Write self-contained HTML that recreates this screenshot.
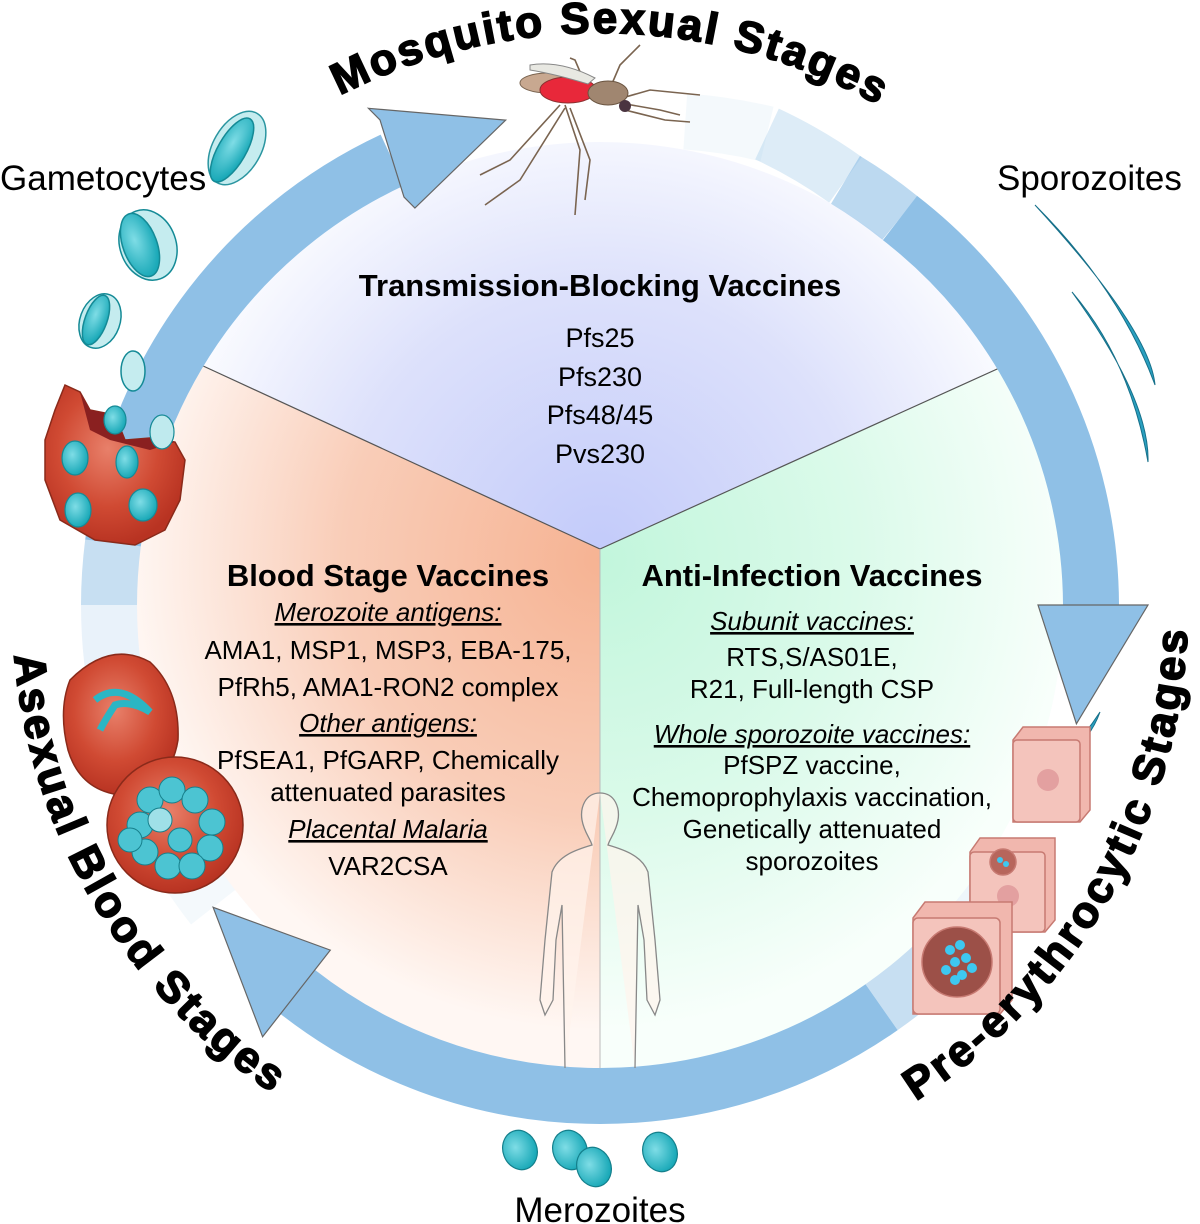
<!DOCTYPE html>
<html><head><meta charset="utf-8"><style>
html,body{margin:0;padding:0;background:#fff}
svg{display:block}
text{font-family:"Liberation Sans",Arial,sans-serif}
</style></head><body>
<svg width="1200" height="1224" viewBox="0 0 1200 1224" xmlns="http://www.w3.org/2000/svg">
<defs>
<radialGradient id="gTop" cx="600" cy="549" r="440" gradientUnits="userSpaceOnUse">
<stop offset="0" stop-color="#c3cbfa"/><stop offset="0.6" stop-color="#dde1fb"/><stop offset="1" stop-color="#fafbff"/></radialGradient>
<radialGradient id="gLeft" cx="600" cy="560" r="470" gradientUnits="userSpaceOnUse">
<stop offset="0" stop-color="#f6b393"/><stop offset="0.55" stop-color="#f9cdb8"/><stop offset="1" stop-color="#fff7f3"/></radialGradient>
<radialGradient id="gRight" cx="600" cy="560" r="470" gradientUnits="userSpaceOnUse">
<stop offset="0" stop-color="#c2f6dc"/><stop offset="0.55" stop-color="#dbfaea"/><stop offset="1" stop-color="#f8fffb"/></radialGradient>
<clipPath id="disk"><circle cx="600" cy="605" r="463"/></clipPath>
<radialGradient id="rbc" cx="0.45" cy="0.4" r="0.6"><stop offset="0" stop-color="#e8806a"/><stop offset="0.6" stop-color="#d04a33"/><stop offset="1" stop-color="#b83322"/></radialGradient>
<radialGradient id="teal" cx="0.4" cy="0.4" r="0.6"><stop offset="0" stop-color="#7fdde6"/><stop offset="1" stop-color="#1aa9b8"/></radialGradient>
<path id="pTop" d="M 331.4 99.9 A 572 572 0 0 1 886 109.6" fill="none"/>
<path id="pLeft" d="M 12.8 635.8 A 588 588 0 0 0 288.4 1103.6" fill="none"/>
<path id="pRight" d="M 894 1114.2 A 588 588 0 0 0 1188 605" fill="none"/>
</defs>

<!-- sectors -->
<g clip-path="url(#disk)">
<rect x="0" y="0" width="1200" height="1224" fill="url(#gTop)"/>
<polygon points="600,549 201,365 0,270 0,1224 600,1224" fill="url(#gLeft)"/>
<polygon points="600,549 1006,365 1200,270 1200,1224 600,1224" fill="url(#gRight)"/>
<polyline points="201,365 600,549 1006,365" fill="none" stroke="#555" stroke-width="1.2"/>
<line x1="600" y1="549" x2="600" y2="1070" stroke="#bbb" stroke-width="1"/>
</g>

<!-- ring / arrows -->
<g fill="none" stroke="#8fc0e6" stroke-width="56">
<path d="M 213.1 907.3 A 491 491 0 0 1 125.7 732.1" stroke-opacity="0.1"/>
<path d="M 125.7 732.1 A 491 491 0 0 1 109 605" stroke-opacity="0.2"/>
<path d="M 109 605 A 491 491 0 0 1 113 543" stroke-opacity="0.5"/>
<path d="M 113 543 A 491 491 0 0 1 392.5 160" />
<path d="M 685.3 121.5 A 491 491 0 0 1 767 134" stroke-opacity="0.1"/>
<path d="M 767 134 A 491 491 0 0 1 845.5 179.8" stroke-opacity="0.3"/>
<path d="M 845.5 179.8 A 491 491 0 0 1 900 218" stroke-opacity="0.6"/>
<path d="M 900 218 A 491 491 0 0 1 1091 605"/>
<path d="M 1002.2 886.6 A 491 491 0 0 1 947.2 952.2" stroke-opacity="0.15"/>
<path d="M 947.2 952.2 A 491 491 0 0 1 881.6 1007.2" stroke-opacity="0.5"/>
<path d="M 881.6 1007.2 A 491 491 0 0 1 297.7 991.9"/>
</g>
<g fill="#8fc0e6" stroke="#666" stroke-width="1.2" stroke-linejoin="miter">
<polygon points="368.4,108.3 505.7,120.1 414.9,208 404,197 380,120"/>
<polygon points="1038,605 1063,605 1118,605 1148,605 1076.4,723.8"/>
<polygon points="330.3,950.1 262.6,1036.8 213.1,907.3"/>
</g>

<!-- mosquito -->
<g stroke="#7a6450" stroke-width="1.6" fill="none">
<path d="M560 105 L510 160 L480 175"/><path d="M565 108 L520 180 L485 205"/>
<path d="M565 105 L580 150 L575 215"/><path d="M570 108 L590 160 L585 200"/>
<path d="M605 100 L620 65 L640 45"/><path d="M615 100 L650 90 L700 95"/>
<path d="M620 103 L660 110 L680 115"/><path d="M625 110 L665 120 L690 122"/>
<path d="M590 95 L575 60 L570 58"/>
</g>
<ellipse cx="548" cy="83" rx="28" ry="10" fill="#c8a890" stroke="#7a6450"/>
<ellipse cx="568" cy="90" rx="28" ry="13" fill="#e8283a" stroke="#8a3030"/>
<path d="M530 65 Q560 60 595 78 L588 84 Q555 74 530 70 Z" fill="#e8e8e2" stroke="#888"/>
<ellipse cx="608" cy="93" rx="20" ry="12" fill="#a08670" stroke="#6a5440"/>
<circle cx="625" cy="106" r="6" fill="#4a3440"/>

<!-- gametocytes & burst RBC -->
<g stroke="#148a96" stroke-width="1.5">
<ellipse cx="237" cy="148" rx="24" ry="40" transform="rotate(30 237 148)" fill="#bfeaee" opacity="0.9"/>
<ellipse cx="232" cy="150" rx="14" ry="36" transform="rotate(30 232 150)" fill="url(#teal)"/>
<ellipse cx="148" cy="245" rx="28" ry="36" transform="rotate(-20 148 245)" fill="#c5ecef"/>
<ellipse cx="140" cy="245" rx="17" ry="33" transform="rotate(-20 140 245)" fill="url(#teal)"/>
<ellipse cx="100" cy="321" rx="20" ry="28" transform="rotate(20 100 321)" fill="#c5ecef"/>
<ellipse cx="96" cy="320" rx="11" ry="26" transform="rotate(20 96 320)" fill="url(#teal)"/>
<ellipse cx="133" cy="371" rx="12" ry="20" fill="#c5ecef"/>
</g>
<path d="M65 385 L80 392 L90 410 L115 415 L125 440 L150 438 L175 442 L185 460 L180 500 L165 530 L135 545 L95 540 L60 520 L45 480 L45 440 L55 410 Z" fill="url(#rbc)" stroke="#8a2a1a" stroke-width="1.5"/>
<path d="M80 392 L90 410 L115 415 L125 440 L150 438 L175 442 L150 450 L110 440 L90 430 Z" fill="#8a2020"/>
<g fill="url(#teal)" stroke="#158a96" stroke-width="1.2">
<ellipse cx="75" cy="458" rx="13" ry="17"/><ellipse cx="127" cy="462" rx="11" ry="16"/>
<ellipse cx="78" cy="510" rx="13" ry="17"/><ellipse cx="143" cy="505" rx="14" ry="16"/>
<ellipse cx="115" cy="420" rx="11" ry="14"/><ellipse cx="162" cy="432" rx="12" ry="17" fill="#bfeaee"/>
</g>

<!-- infected RBCs left -->
<path d="M70 680 Q110 640 150 662 Q180 690 178 740 Q170 790 120 795 Q80 790 68 750 Q58 710 70 680Z" fill="url(#rbc)" stroke="#8a2a1a" stroke-width="1.5"/>
<path d="M95 700 Q120 680 150 712 Q130 700 115 705 Q105 720 100 730" fill="none" stroke="#2bb6c4" stroke-width="7"/>
<circle cx="175" cy="825" r="68" fill="url(#rbc)" stroke="#8a2a1a" stroke-width="1.5"/>
<g fill="#4cc4d2" stroke="#167f8b" stroke-width="1">
<circle cx="150" cy="800" r="13"/><circle cx="172" cy="790" r="13"/><circle cx="195" cy="800" r="13"/><circle cx="212" cy="822" r="13"/>
<circle cx="140" cy="825" r="13"/><circle cx="210" cy="848" r="13"/><circle cx="145" cy="852" r="13"/><circle cx="168" cy="866" r="13"/>
<circle cx="192" cy="866" r="13"/><circle cx="130" cy="840" r="12"/><circle cx="180" cy="840" r="12"/><circle cx="160" cy="820" r="12" fill="#9fe0e8"/>
</g>

<!-- sporozoites -->
<g fill="#2aa0c0" stroke="#16708a" stroke-width="1">
<path d="M1035 205 Q1120 290 1155 385 Q1150 330 1035 205Z"/>
<path d="M1072 292 Q1130 360 1148 462 Q1150 400 1072 292Z"/>
<path d="M1100 712 Q1085 735 1068 752 Q1090 740 1100 712Z"/>
</g>

<!-- liver cells -->
<g stroke="#c77a72" stroke-width="1.5">
<path d="M1013 740 L1023 727 L1090 727 L1090 810 L1080 822 L1013 822Z" fill="#f1b7ae"/>
<rect x="1013" y="740" width="67" height="82" rx="4" fill="#f4c4bc"/>
<circle cx="1048" cy="780" r="11" fill="#e3a0a0" stroke="none"/>
<path d="M970 852 L980 838 L1055 838 L1055 920 L1045 932 L970 932Z" fill="#f1b7ae"/>
<rect x="970" y="852" width="75" height="80" rx="4" fill="#f4c4bc"/>
<circle cx="1003" cy="862" r="13" fill="#b7665c"/>
<circle cx="1008" cy="896" r="11" fill="#e3a0a0" stroke="none"/>
<path d="M913 918 L925 902 L1012 902 L1012 1000 L1000 1014 L913 1014Z" fill="#f1b7ae"/>
<rect x="913" y="918" width="87" height="96" rx="5" fill="#f4c4bc"/>
<circle cx="957" cy="962" r="35" fill="#9c5048"/>
</g>
<g fill="#3ec8f0"><circle cx="950" cy="950" r="5"/><circle cx="960" cy="945" r="5"/><circle cx="966" cy="958" r="5"/><circle cx="955" cy="962" r="5"/><circle cx="946" cy="970" r="5"/><circle cx="962" cy="975" r="5"/><circle cx="972" cy="968" r="5"/><circle cx="955" cy="980" r="5"/><circle cx="1000" cy="860" r="3"/><circle cx="1006" cy="864" r="3"/></g>

<!-- merozoites -->
<g fill="url(#teal)" stroke="#147f8b" stroke-width="1.2">
<ellipse cx="520" cy="1150" rx="17" ry="20" transform="rotate(-20 520 1150)"/>
<ellipse cx="570" cy="1150" rx="17" ry="20" transform="rotate(-20 570 1150)"/>
<ellipse cx="594" cy="1167" rx="17" ry="20" transform="rotate(-20 594 1167)"/>
<ellipse cx="660" cy="1152" rx="17" ry="20" transform="rotate(-20 660 1152)"/>
</g>

<!-- human -->
<path d="M600 793 C585 793 580 808 582 820 C584 832 590 838 592 845 C575 850 558 856 552 872 L545 940 L540 1000 L545 1015 L553 1000 L556 940 L562 905 L565 1068 M600 793 C615 793 620 808 618 820 C616 832 610 838 608 845 C625 850 642 856 648 872 L655 940 L660 1000 L655 1015 L647 1000 L644 940 L638 905 L635 1068" fill="#fff3ec" fill-opacity="0.7" stroke="#888" stroke-width="1.3"/>

<!-- center texts -->
<g text-anchor="middle" fill="#000">
<text x="600" y="296" font-size="31" font-weight="bold">Transmission-Blocking Vaccines</text>
<text x="600" y="347" font-size="27">Pfs25</text>
<text x="600" y="386" font-size="27">Pfs230</text>
<text x="600" y="424" font-size="27">Pfs48/45</text>
<text x="600" y="463" font-size="27">Pvs230</text>

<text x="388" y="586" font-size="31" font-weight="bold">Blood Stage Vaccines</text>
<text x="388" y="621" font-size="26" font-style="italic" text-decoration="underline">Merozoite antigens:</text>
<text x="388" y="659" font-size="26">AMA1, MSP1, MSP3, EBA-175,</text>
<text x="388" y="696" font-size="26">PfRh5, AMA1-RON2 complex</text>
<text x="388" y="732" font-size="26" font-style="italic" text-decoration="underline">Other antigens:</text>
<text x="388" y="769" font-size="26">PfSEA1, PfGARP, Chemically</text>
<text x="388" y="801" font-size="26">attenuated parasites</text>
<text x="388" y="838" font-size="26" font-style="italic" text-decoration="underline">Placental Malaria</text>
<text x="388" y="875" font-size="26">VAR2CSA</text>

<text x="812" y="586" font-size="31" font-weight="bold">Anti-Infection Vaccines</text>
<text x="812" y="630" font-size="26" font-style="italic" text-decoration="underline">Subunit vaccines:</text>
<text x="812" y="666" font-size="26">RTS,S/AS01E,</text>
<text x="812" y="698" font-size="26">R21, Full-length CSP</text>
<text x="812" y="743" font-size="26" font-style="italic" text-decoration="underline">Whole sporozoite vaccines:</text>
<text x="812" y="774" font-size="26">PfSPZ vaccine,</text>
<text x="812" y="806" font-size="26">Chemoprophylaxis vaccination,</text>
<text x="812" y="838" font-size="26">Genetically attenuated</text>
<text x="812" y="870" font-size="26">sporozoites</text>
</g>

<text x="0" y="190" font-size="35">Gametocytes</text>
<text x="997" y="190" font-size="35">Sporozoites</text>
<text x="600" y="1222" font-size="35" text-anchor="middle">Merozoites</text>

<!-- curved titles -->
<g font-size="44" font-weight="bold" fill="#000" stroke="#000" stroke-width="1.6">
<text text-anchor="middle"><textPath href="#pTop" startOffset="50%" textLength="560" lengthAdjust="spacing">Mosquito Sexual Stages</textPath></text>
<text text-anchor="middle"><textPath href="#pLeft" startOffset="50%" textLength="525" lengthAdjust="spacing">Asexual Blood Stages</textPath></text>
<text text-anchor="middle"><textPath href="#pRight" startOffset="50%" textLength="565" lengthAdjust="spacing">Pre-erythrocytic Stages</textPath></text>
</g>
</svg>
</body></html>
